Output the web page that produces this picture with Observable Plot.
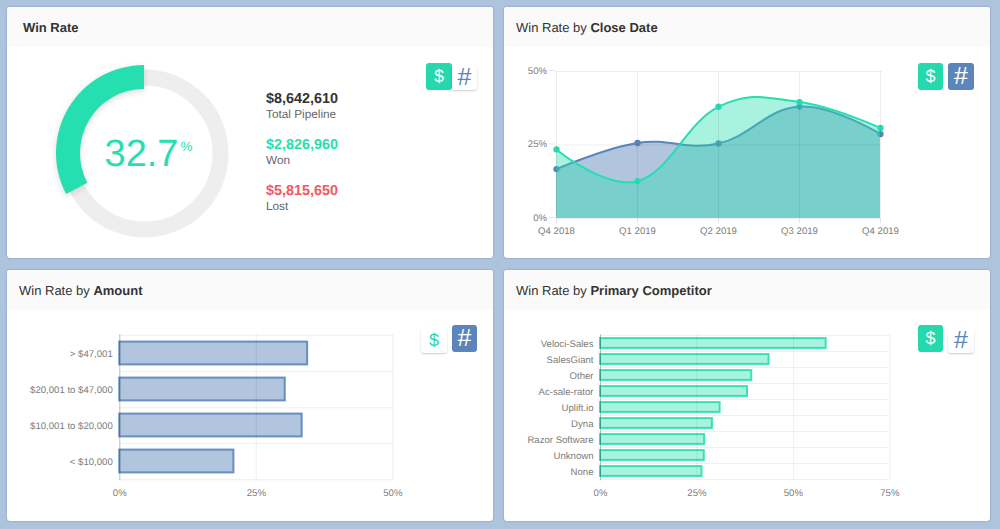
<!DOCTYPE html>
<html><head><meta charset="utf-8">
<script src="https://cdn.jsdelivr.net/npm/d3@7"></script>
<script src="https://cdn.jsdelivr.net/npm/@observablehq/plot@0.6"></script>
<style>
html,body{margin:0;padding:0;width:1000px;height:529px;overflow:hidden;background:#aec3dd;font-family:"Liberation Sans",Arial,sans-serif;text-rendering:geometricPrecision;}
.card{position:absolute;width:486px;height:251px;background:#fff;border-radius:3px;box-shadow:0 0 2px rgba(60,70,90,.45);}
.head{position:absolute;left:0;top:0;right:0;height:40px;background:#fafafa;border-radius:3px 3px 0 0;font-size:13px;line-height:41px;color:#333;}
.head b{font-weight:700;}
.card svg{position:absolute;left:0;top:40px;overflow:visible;background:transparent;text-rendering:geometricPrecision;}
.btn{position:absolute;box-sizing:border-box;border-radius:3px;text-align:center;}
.btn.on{color:#fff;}
.btn.off{background:#fff;box-shadow:0 1px 2px rgba(0,0,0,.2);}
.stat{position:absolute;left:259px;white-space:nowrap;}
.stat .v{font-size:14.4px;font-weight:700;line-height:17px;}
.stat .l{font-size:11.8px;color:#666;line-height:12px;}
</style></head><body>
<script>
const GREEN = "#26dfb0", GREEN_BTN = "#25d9ac", BLUE = "#5b85bb", RED = "#f4575f";
const GRID = "rgba(0,0,0,.065)", AXIS = "rgba(0,0,0,.2)", LABEL = "#7b7b7b";

const winRate = "32.7";
const statLabels = ["Total Pipeline", "Won", "Lost"];
const statValues = [8642610, 2826960, 5815650];
const statColors = ["#333", GREEN, RED];

const quarters = ["Q4 2018", "Q1 2019", "Q2 2019", "Q3 2019", "Q4 2019"];
const byValue = [23.5, 12.7, 38, 39.6, 30.8];
const byCount = [16.8, 25.7, 25.5, 38.1, 28.7];

const amountBands = ["> $47,001", "$20,001 to $47,000", "$10,001 to $20,000", "< $10,000"];
const amountRates = [34.4, 30.3, 33.4, 20.9];

const competitors = ["Veloci-Sales", "SalesGiant", "Other", "Ac-sale-rator", "Uplift.io", "Dyna", "Razor Software", "Unknown", "None"];
const competitorRates = [58.5, 43.7, 39.2, 38.1, 31, 29, 27, 26.9, 26.3];

const fontStyle = {fontFamily: '"Liberation Sans",Arial,sans-serif', fontSize: "9.6px", background: "transparent", overflow: "visible"};

function card(left, top, titleHtml, pad) {
  const c = document.createElement("div");
  c.className = "card"; c.style.left = left + "px"; c.style.top = top + "px";
  const h = document.createElement("div");
  h.className = "head"; h.style.paddingLeft = pad + "px"; h.innerHTML = titleHtml;
  c.appendChild(h); document.body.appendChild(c);
  return c;
}
function button(c, glyph, x, y, w, h, on, color) {
  const b = document.createElement("div");
  b.className = "btn " + (on ? "on" : "off");
  Object.assign(b.style, {left: x + "px", top: y + "px", width: w + "px", height: h + "px", lineHeight: h + "px"});
  if (on) b.style.background = color; else b.style.color = color;
  b.style.fontSize = glyph === "#" ? "25px" : "18px";
  b.textContent = glyph;
  c.appendChild(b);
}

/* ---------- Win Rate ---------- */
const c1 = card(7, 7, "<b>Win Rate</b>", 16);
const cx = 137, cy = 106;
const pie = d3.pie().sort(null).startAngle(0).endAngle(-2 * Math.PI)(statValues.slice(1));
const donut = Plot.plot({
  width: 486, height: 211, margin: 0, style: fontStyle,
  x: {domain: [-1, 1], range: [cx - 88, cx + 88], axis: null},
  y: {domain: [-1, 1], range: [cy + 88, cy - 88], axis: null},
  marks: [
    Plot.dot([0], {x: 0, y: 0, r: 76, stroke: "#eeeeee", strokeWidth: 16, fill: "none"}),
    (index, {x, y}) => {
      const g = d3.create("svg:g").attr("transform", `translate(${x(0)},${y(0)})`);
      g.append("path").attr("d", d3.arc().innerRadius(64).outerRadius(88)(pie[0]))
        .attr("fill", GREEN).style("filter", "drop-shadow(0 2px 3px rgba(0,0,0,.14))");
      return g.node();
    },
    Plot.text([winRate], {x: 0, y: 0, text: d => d, textAnchor: "end", dx: 34, dy: 0, fontSize: 38, fill: GREEN}),
    Plot.text(["%"], {x: 0, y: 0, text: d => d, textAnchor: "start", dx: 36, dy: -7, fontSize: 13.5, fill: GREEN})
  ]
});
c1.appendChild(donut);
const fmt = d3.format("$,");
statLabels.forEach((l, i) => {
  const s = document.createElement("div");
  s.className = "stat"; s.style.top = (83.5 + i * 46) + "px";
  s.innerHTML = `<div class="v" style="color:${statColors[i]}">${fmt(statValues[i])}</div><div class="l">${l}</div>`;
  c1.appendChild(s);
});
button(c1, "$", 419, 56, 26, 27, true, GREEN_BTN);
button(c1, "#", 445, 58, 25, 25, false, BLUE);

/* ---------- Close Date ---------- */
const c2 = card(504, 7, "Win Rate by <b>Close Date</b>", 12);
const curve = {curve: "cardinal", tension: -0.2};
const series = (vals) => quarters.map((q, i) => ({q, v: vals[i]}));
const blueS = series(byCount), greenS = series(byValue);
const lineChart = Plot.plot({
  width: 486, height: 211, marginLeft: 50.5, marginRight: 109, marginTop: 24, marginBottom: 40, style: fontStyle,
  x: {type: "point", domain: quarters, padding: 0, axis: null},
  y: {domain: [0, 50], axis: null},
  marks: [
    Plot.areaY(blueS, {x: "q", y: "v", fill: BLUE, fillOpacity: .48, ...curve}),
    Plot.lineY(blueS, {x: "q", y: "v", stroke: BLUE, strokeWidth: 2, ...curve}),
    Plot.dot(blueS, {x: "q", y: "v", r: 3.2, fill: BLUE}),
    Plot.areaY(greenS, {x: "q", y: "v", fill: GREEN, fillOpacity: .4, ...curve}),
    Plot.lineY(greenS, {x: "q", y: "v", stroke: GREEN, strokeWidth: 2, ...curve}),
    Plot.dot(greenS, {x: "q", y: "v", r: 3.2, fill: GREEN}),
    Plot.ruleX(quarters, {stroke: GRID}),
    Plot.ruleY([0, 25, 50], {stroke: GRID}),
    Plot.axisY({ticks: [0, 25, 50], tickFormat: d => d + "%", tickSize: 5, tickPadding: 3, dy: -1, stroke: "#e4e4e4", fill: LABEL, label: null}),
    Plot.axisX({tickSize: 5, tickPadding: 3.5, stroke: "#e4e4e4", fill: LABEL, label: null})
  ]
});
c2.appendChild(lineChart);
button(c2, "$", 414, 56, 25, 27, true, GREEN_BTN);
button(c2, "#", 444, 56, 26, 27, true, BLUE);

/* ---------- bar charts ---------- */
function bars(cats, vals, color, fillOpacity, ticks, left, xMax, inset) {
  const rows = cats.map((c, i) => ({c, v: vals[i]}));
  const step = 146 / cats.length;
  return Plot.plot({
    width: 486, height: 211, marginLeft: left, marginRight: 100.7, marginTop: 24.3, marginBottom: 40.7, style: fontStyle,
    x: {domain: [0, xMax], axis: null},
    y: {type: "band", domain: cats, padding: 0, axis: null},
    marks: [
      Plot.barX(rows, {x: "v", y: "c", fill: color, fillOpacity, stroke: color, strokeOpacity: .9, strokeWidth: 2, insetTop: inset, insetBottom: inset}),
      Plot.ruleX(ticks, {stroke: GRID}),
      Plot.ruleX([0], {stroke: AXIS}),
      Plot.ruleY(cats, {y: d => d, stroke: GRID, dy: step / 2}),
      Plot.ruleY(cats.slice(0, 1), {y: d => d, stroke: GRID, dy: -step / 2}),
      Plot.axisY({tickSize: 0, tickPadding: 7, fill: LABEL, label: null}),
      Plot.axisX({ticks, tickFormat: d => d + "%", tickSize: 0, tickPadding: 8, fill: LABEL, label: null})
    ]
  });
}
const c3 = card(7, 270, "Win Rate by <b>Amount</b>", 12);
c3.appendChild(bars(amountBands, amountRates, BLUE, .48, [0, 25, 50], 112.3, 50, 6.6));
button(c3, "$", 414, 58, 26, 25, false, GREEN_BTN);
button(c3, "#", 445, 55, 25, 27, true, BLUE);

const c4 = card(504, 270, "Win Rate by <b>Primary Competitor</b>", 12);
c4.appendChild(bars(competitors, competitorRates, GREEN, .4, [0, 25, 50, 75], 96, 75, 3.1));
button(c4, "$", 414, 55, 25, 27, true, GREEN_BTN);
button(c4, "#", 444, 58, 26, 25, false, BLUE);
</script>
</body></html>
